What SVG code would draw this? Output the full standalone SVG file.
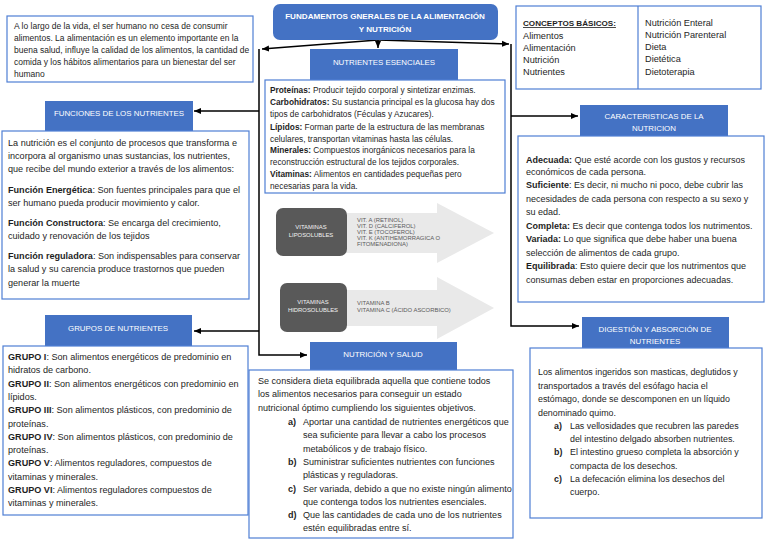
<svg xmlns="http://www.w3.org/2000/svg" width="768" height="543" viewBox="0 0 768 543">
<defs>
<style>
.hdr{fill:#4472C4}
.box{fill:#fff;stroke:#4F7FD4;stroke-width:1.2}
text{font-family:"Liberation Sans",Arial,sans-serif;fill:#1e1e1e}
.ht{fill:#fff;font-size:7.9px;text-anchor:middle}
.b{font-weight:bold}
.conn{stroke:#000;stroke-width:1.5;fill:none}
.vt{font-size:5.9px;fill:#5a5a5a}
.vd{font-size:5.9px;fill:#f2f2f2;text-anchor:middle}
.arr{fill:#E9E9E9}
.dk{fill:#595959}
#intro text{font-size:8.5px}
#conceptos text{font-size:9.2px}
#nutrientes-esenciales .s{font-size:8.3px}
#funciones .t{font-size:9.1px}
#caracteristicas .t{font-size:9px}
#grupos .t{font-size:9.1px}
#nutricion-salud .t{font-size:9.05px}
#digestion .t{font-size:8.9px}
</style>
<marker id="ah" markerWidth="8" markerHeight="8" refX="7" refY="4" orient="auto" markerUnits="userSpaceOnUse">
<path d="M0,1 L7,4 L0,7 Z" fill="#000"/>
</marker>
</defs>

<g id="connectors">
<path class="conn" d="M378,40 L262,49" marker-end="url(#ah)"/>
<path class="conn" d="M378,40 L509,44" marker-end="url(#ah)"/>
<path class="conn" d="M378,40 L378,48" marker-end="url(#ah)"/>
<path class="conn" d="M259,49 L259,355 L307,355" marker-end="url(#ah)"/>
<path class="conn" d="M259,111 L194,111" marker-end="url(#ah)"/>
<path class="conn" d="M259,331 L194,331" marker-end="url(#ah)"/>
<path class="conn" d="M511,44 L511,326 L579,326" marker-end="url(#ah)"/>
<path class="conn" d="M511,116 L578,116" marker-end="url(#ah)"/>
</g>

<g id="intro">
<rect class="box" x="7" y="16" width="246" height="66"/>
<text x="14" y="29">A lo largo de la vida, el ser humano no cesa de consumir</text>
<text x="14" y="41">alimentos. La alimentación es un elemento importante en la</text>
<text x="14" y="53">buena salud, influye la calidad de los alimentos, la cantidad de</text>
<text x="14" y="65">comida y los hábitos alimentarios para un bienestar del ser</text>
<text x="14" y="77">humano</text>
</g>

<g id="titulo">
<rect class="hdr" x="273" y="4" width="225" height="36" rx="7"/>
<text class="ht b" x="385" y="19" style="font-size:8.1px">FUNDAMENTOS GNERALES DE LA ALIMENTACIÓN</text>
<text class="ht b" x="385" y="32" style="font-size:8.1px">Y NUTRICIÓN</text>
</g>

<g id="conceptos">
<rect class="box" x="516" y="6" width="245" height="83"/>
<line x1="638" y1="6" x2="638" y2="89" stroke="#4F7FD4" stroke-width="1.2"/>
<text class="b" x="523" y="26" text-decoration="underline" style="font-size:8.1px">CONCEPTOS BÁSICOS:</text>
<text x="523" y="39">Alimentos</text>
<text x="523" y="51">Alimentación</text>
<text x="523" y="63">Nutrición</text>
<text x="523" y="75">Nutrientes</text>
<text x="645" y="26">Nutrición Enteral</text>
<text x="645" y="38">Nutrición Parenteral</text>
<text x="645" y="50">Dieta</text>
<text x="645" y="62">Dietética</text>
<text x="645" y="75">Dietoterapia</text>
</g>

<g id="nutrientes-esenciales">
<rect class="hdr" x="310" y="49" width="148" height="31"/>
<text class="ht" x="384" y="65">NUTRIENTES ESENCIALES</text>
<rect class="box" x="265" y="80" width="240" height="113"/>
<text class="s" x="270" y="93"><tspan class="b">Proteínas:</tspan> Producir tejido corporal y sintetizar enzimas.</text>
<text class="s" x="270" y="105"><tspan class="b">Carbohidratos:</tspan> Su sustancia principal es la glucosa hay dos</text>
<text class="s" x="270" y="117">tipos de carbohidratos (Féculas y Azucares).</text>
<text class="s" x="270" y="130"><tspan class="b">Lípidos:</tspan> Forman parte de la estructura de las membranas</text>
<text class="s" x="270" y="142">celulares, transportan vitaminas hasta las células.</text>
<text class="s" x="270" y="153"><tspan class="b">Minerales:</tspan> Compuestos inorgánicos necesarios para la</text>
<text class="s" x="270" y="165">reconstrucción estructural de los tejidos corporales.</text>
<text class="s" x="270" y="177"><tspan class="b">Vitaminas:</tspan> Alimentos en cantidades pequeñas pero</text>
<text class="s" x="270" y="189">necesarias para la vida.</text>
</g>

<g id="vitaminas">
<polygon class="arr" points="330,213 437,213 437,203 494,233 437,263 437,253 330,253"/>
<rect class="dk" x="276" y="208" width="71" height="48" rx="7"/>
<text class="vd" x="311" y="229">VITAMINAS</text>
<text class="vd" x="311" y="237">LIPOSOLUBLES</text>
<text class="vt" x="357" y="222">VIT. A (RETINOL)</text>
<text class="vt" x="357" y="228">VIT. D (CALCIFEROL)</text>
<text class="vt" x="357" y="234">VIT. E (TOCOFEROL)</text>
<text class="vt" x="357" y="240">VIT. K (ANTIHEMORRAGICA O</text>
<text class="vt" x="357" y="246">FITOMENADIONA)</text>
<polygon class="arr" points="330,290 437,290 437,277 494,308 437,339 437,326 330,326"/>
<rect class="dk" x="280" y="283" width="67" height="49" rx="7"/>
<text class="vd" x="313" y="304">VITAMINAS</text>
<text class="vd" x="313" y="312">HIDROSOLUBLES</text>
<text class="vt" x="357" y="305">VITAMINA B</text>
<text class="vt" x="357" y="312">VITAMINA C (ÁCIDO ASCORBICO)</text>
</g>

<g id="funciones">
<rect class="hdr" x="45" y="101" width="148" height="30"/>
<text class="ht" x="119" y="116">FUNCIONES DE LOS NUTRIENTES</text>
<rect class="box" x="2" y="131" width="247" height="168"/>
<text class="t" x="8" y="146">La nutrición es el conjunto de procesos que transforma e</text>
<text class="t" x="8" y="159">incorpora al organismo unas sustancias, los nutrientes,</text>
<text class="t" x="8" y="172">que recibe del mundo exterior a través de los alimentos:</text>
<text class="t" x="8" y="193"><tspan class="b">Función Energética</tspan>: Son fuentes principales para que el</text>
<text class="t" x="8" y="206">ser humano pueda producir movimiento y calor.</text>
<text class="t" x="8" y="226"><tspan class="b">Función Constructora</tspan>: Se encarga del crecimiento,</text>
<text class="t" x="8" y="239">cuidado y renovación de los tejidos</text>
<text class="t" x="8" y="259"><tspan class="b">Función reguladora</tspan>:  Son indispensables para conservar</text>
<text class="t" x="8" y="272">la salud y su carencia produce trastornos que pueden</text>
<text class="t" x="8" y="286">generar la muerte</text>
</g>

<g id="caracteristicas">
<rect class="hdr" x="580" y="105" width="148" height="31"/>
<text class="ht" x="654" y="119">CARACTERISTICAS DE LA</text>
<text class="ht" x="654" y="131">NUTRICION</text>
<rect class="box" x="518" y="136" width="246" height="166"/>
<text class="t" x="526" y="163"><tspan class="b">Adecuada:</tspan> Que esté acorde con los gustos y recursos</text>
<text class="t" x="526" y="175">económicos de cada persona.</text>
<text class="t" x="526" y="188"><tspan class="b">Suficiente</tspan>: Es decir, ni mucho ni poco, debe cubrir las</text>
<text class="t" x="526" y="202">necesidades de cada persona con respecto a su sexo y</text>
<text class="t" x="526" y="215">su edad.</text>
<text class="t" x="526" y="229"><tspan class="b">Completa:</tspan> Es decir que contenga todos los nutrimentos.</text>
<text class="t" x="526" y="242"><tspan class="b">Variada:</tspan> Lo que significa que debe haber una buena</text>
<text class="t" x="526" y="256">selección de alimentos de cada grupo.</text>
<text class="t" x="526" y="269"><tspan class="b">Equilibrada</tspan>: Esto quiere decir que los nutrimentos que</text>
<text class="t" x="526" y="283">consumas deben estar en proporciones adecuadas.</text>
</g>

<g id="grupos">
<rect class="hdr" x="45" y="315" width="147" height="31"/>
<text class="ht" x="118" y="331">GRUPOS DE NUTRIENTES</text>
<rect class="box" x="3" y="346" width="245" height="169"/>
<text class="t" x="8" y="360"><tspan class="b">GRUPO I</tspan>: Son alimentos energéticos de predominio en</text>
<text class="t" x="8" y="373">hidratos de carbono.</text>
<text class="t" x="8" y="387"><tspan class="b">GRUPO II</tspan>: Son alimentos energéticos con predominio en</text>
<text class="t" x="8" y="400">lípidos.</text>
<text class="t" x="8" y="413"><tspan class="b">GRUPO III</tspan>: Son alimentos plásticos, con predominio de</text>
<text class="t" x="8" y="427">proteínas.</text>
<text class="t" x="8" y="440"><tspan class="b">GRUPO IV</tspan>: Son alimentos plásticos, con predominio de</text>
<text class="t" x="8" y="453">proteínas.</text>
<text class="t" x="8" y="466"><tspan class="b">GRUPO V</tspan>: Alimentos reguladores, compuestos de</text>
<text class="t" x="8" y="480">vitaminas y minerales.</text>
<text class="t" x="8" y="493"><tspan class="b">GRUPO VI</tspan>: Alimentos reguladores compuestos de</text>
<text class="t" x="8" y="506">vitaminas y minerales.</text>
</g>

<g id="nutricion-salud">
<rect class="hdr" x="310" y="342" width="147" height="28"/>
<text class="ht" x="383" y="357">NUTRICIÓN Y SALUD</text>
<rect class="box" x="249" y="370" width="264" height="168"/>
<text class="t" x="258" y="384">Se considera dieta equilibrada aquella que contiene todos</text>
<text class="t" x="258" y="397">los alimentos necesarios para conseguir un estado</text>
<text class="t" x="258" y="411">nutricional óptimo cumpliendo los siguientes objetivos.</text>
<text class="t b" x="288" y="425">a)</text>
<text class="t" x="303" y="425">Aportar una cantidad de nutrientes energéticos que</text>
<text class="t" x="303" y="438">sea suficiente para llevar a cabo los procesos</text>
<text class="t" x="303" y="452">metabólicos y de trabajo físico.</text>
<text class="t b" x="288" y="465">b)</text>
<text class="t" x="303" y="465">Suministrar suficientes nutrientes con funciones</text>
<text class="t" x="303" y="478">plásticas y reguladoras.</text>
<text class="t b" x="288" y="492">c)</text>
<text class="t" x="303" y="492">Ser variada, debido a que no existe ningún alimento</text>
<text class="t" x="303" y="505">que contenga todos los nutrientes esenciales.</text>
<text class="t b" x="288" y="518">d)</text>
<text class="t" x="303" y="518">Que las cantidades de cada uno de los nutrientes</text>
<text class="t" x="303" y="531">estén equilibradas entre sí.</text>
</g>

<g id="digestion">
<rect class="hdr" x="582" y="317" width="147" height="31"/>
<text class="ht" x="655" y="332">DIGESTIÓN Y ABSORCIÓN DE</text>
<text class="ht" x="655" y="344">NUTRIENTES</text>
<rect class="box" x="530" y="348" width="232" height="170"/>
<text class="t" x="538" y="375">Los alimentos ingeridos son masticas, deglutidos y</text>
<text class="t" x="538" y="389">transportados a través del esófago hacia el</text>
<text class="t" x="538" y="402">estómago, donde se descomponen en un líquido</text>
<text class="t" x="538" y="416">denominado quimo.</text>
<text class="t b" x="554" y="429">a)</text>
<text class="t" x="570" y="429">Las vellosidades que recubren las paredes</text>
<text class="t" x="570" y="442">del intestino delgado absorben nutrientes.</text>
<text class="t b" x="554" y="455">b)</text>
<text class="t" x="570" y="455">El intestino grueso completa la absorción y</text>
<text class="t" x="570" y="469">compacta de los desechos.</text>
<text class="t b" x="554" y="482">c)</text>
<text class="t" x="570" y="482">La defecación elimina los desechos del</text>
<text class="t" x="570" y="495">cuerpo.</text>
</g>
</svg>
